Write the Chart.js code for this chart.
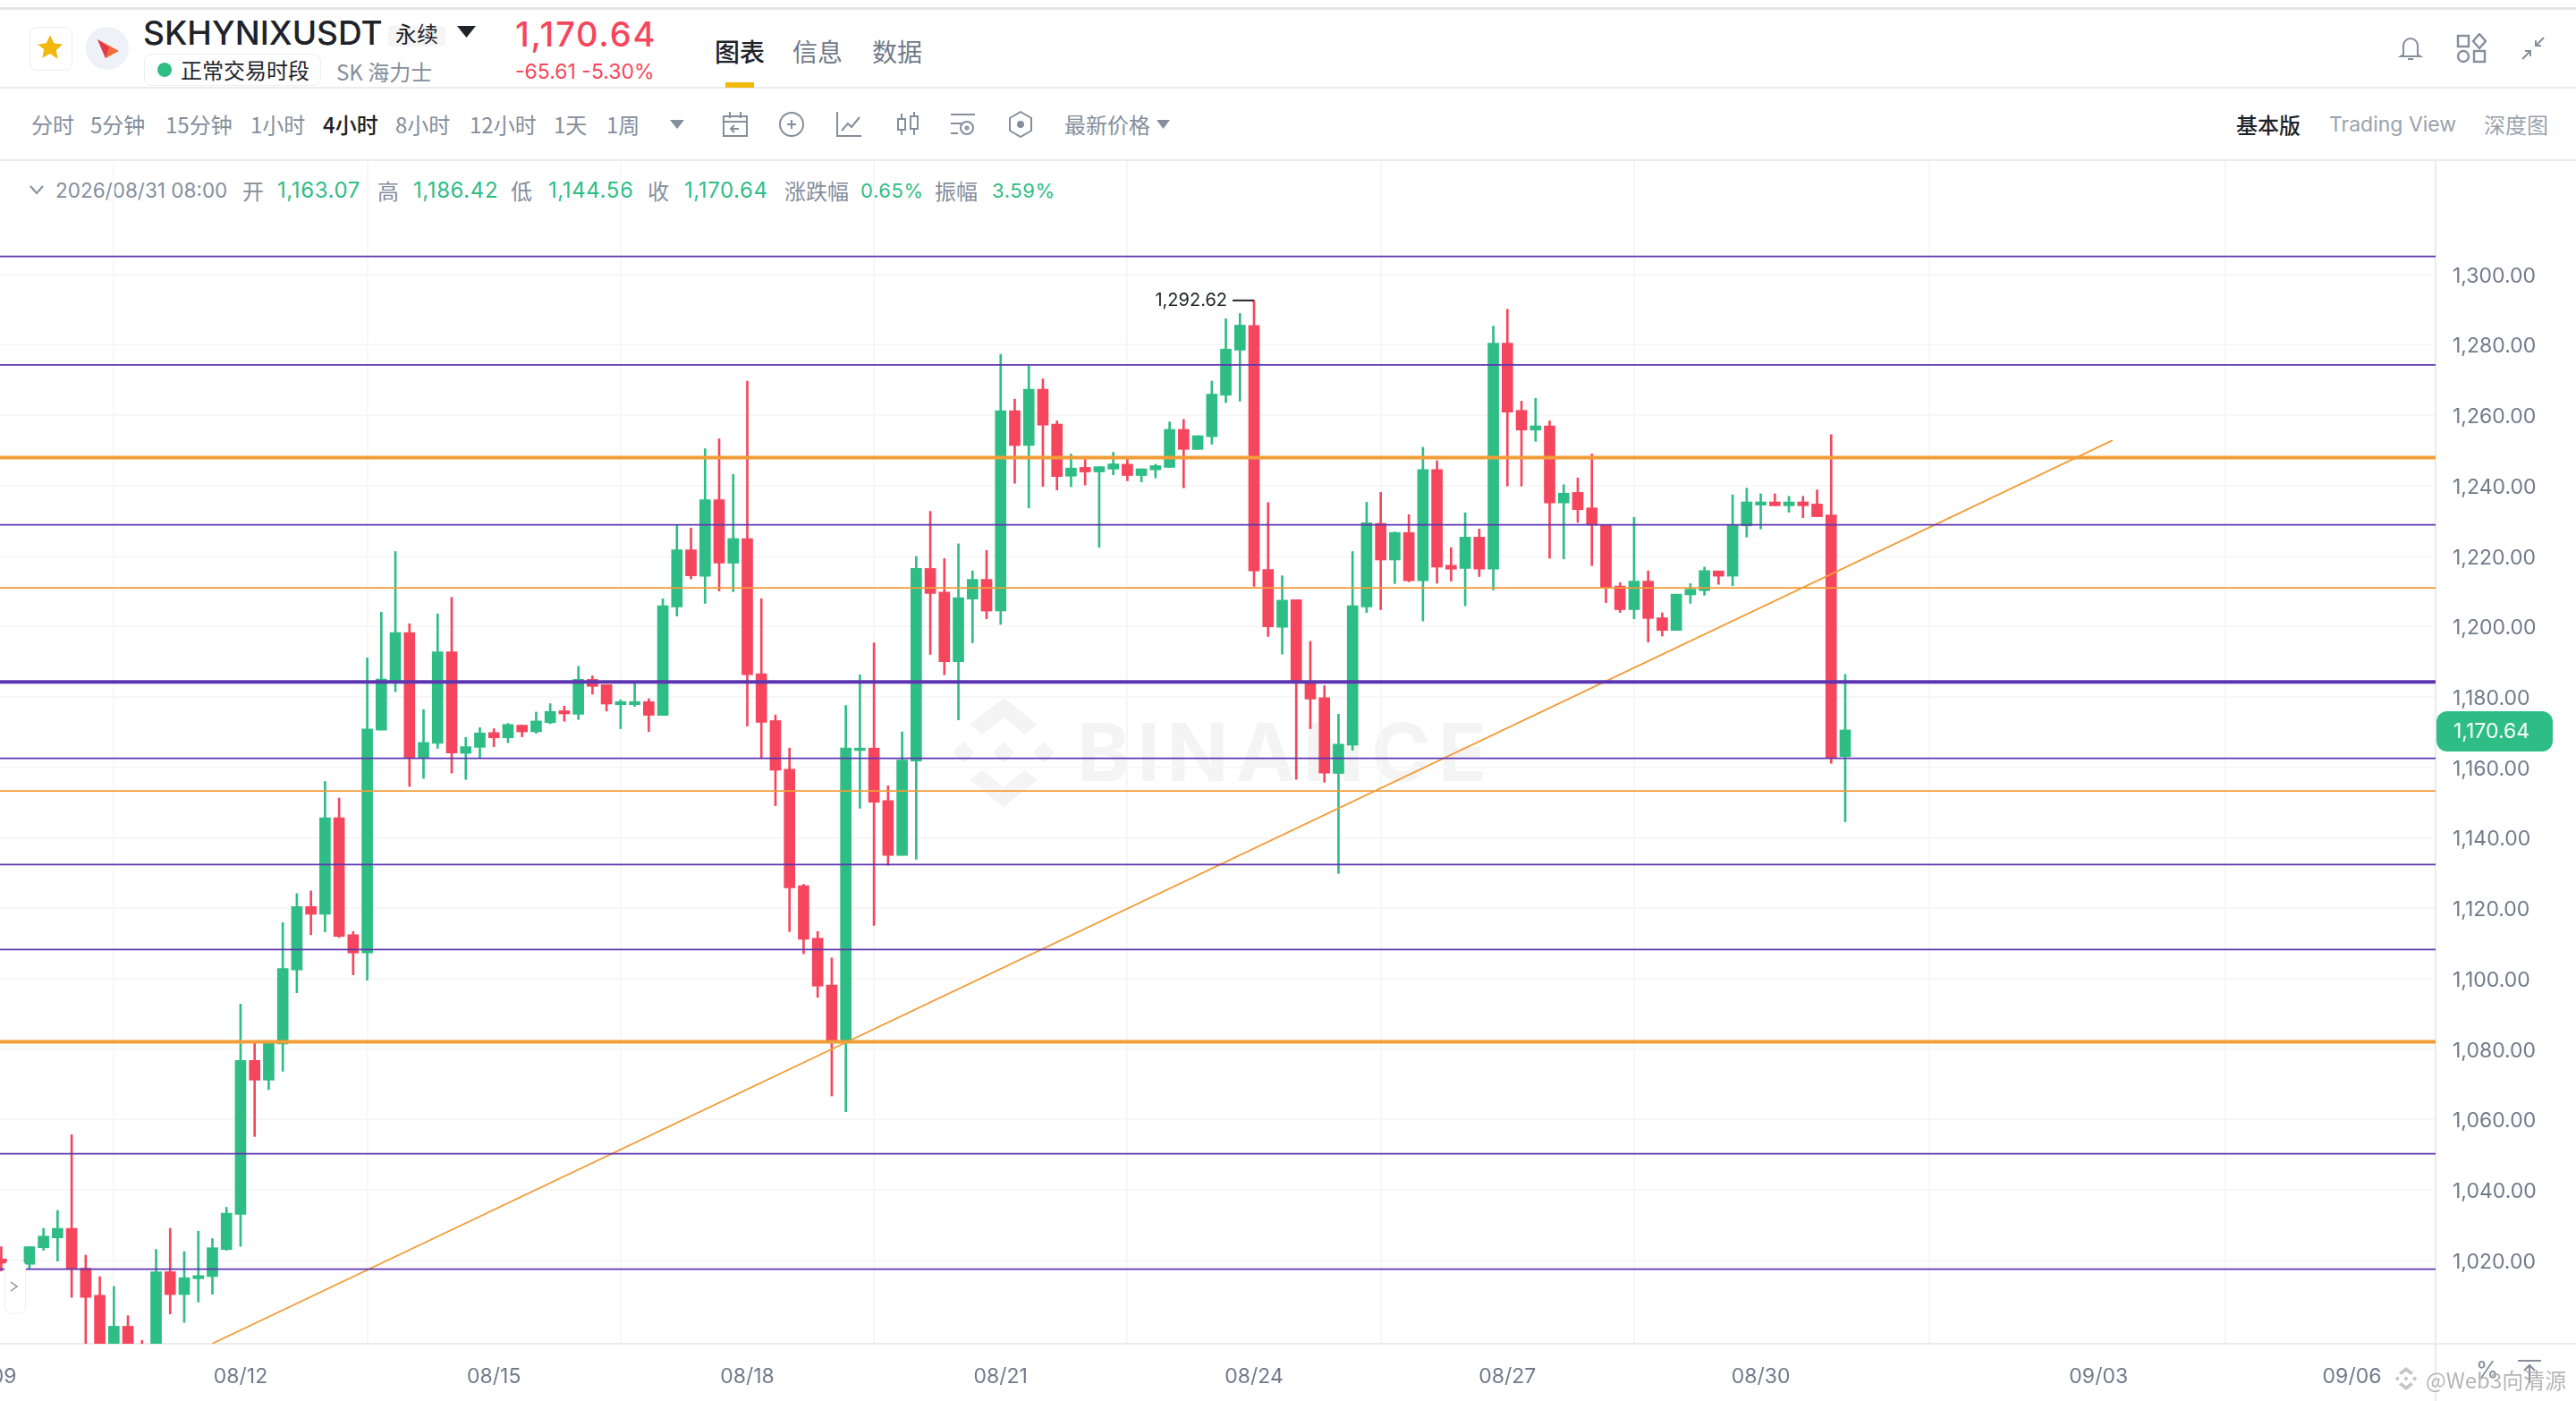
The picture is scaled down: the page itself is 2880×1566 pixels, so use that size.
<!DOCTYPE html>
<html>
<head>
<meta charset="utf-8">
<script src="https://cdn.jsdelivr.net/npm/chart.js@4"></script>
<style>
  html, body { margin: 0; padding: 0; background: #fff; width: 2880px; height: 1566px; overflow: hidden; }
  body { position: relative; font-family: Inter, "Noto Sans CJK SC", sans-serif; color: #848e9c; }
  .t { position: absolute; white-space: nowrap; line-height: 1; transform: translateY(-50%); font-size: 24px; }
  .cjk { font-family: "Noto Sans CJK SC", sans-serif; }
  .dark { color: #1e2329; }
  .green { color: #2ebd85; letter-spacing: .6px; }
  .red { color: #f6465d; }
  .rule { position: absolute; left: 0; width: 2880px; height: 2px; background: #ececec; }
  svg { position: absolute; }
  #wrap { position: absolute; left: 0; top: 180px; width: 2880px; height: 1386px; }
</style>
</head>
<body>
<div class="rule" style="top:8px;height:3px;background:#e6e6e6"></div>
<div class="rule" style="top:97px"></div>
<div class="rule" style="top:178px"></div>

<!-- header -->
<div style="position:absolute;left:33px;top:30px;width:46px;height:47px;border:1px solid #eee;border-radius:8px"></div>
<svg style="left:41px;top:38px" width="30" height="30" viewBox="0 0 24 24"><path d="M12 1l3.4 7.2 7.6 1-5.5 5.4 1.4 7.7L12 17.6l-6.9 3.7 1.4-7.7L1 9.2l7.6-1z" fill="#f0b90b"/></svg>
<div style="position:absolute;left:96px;top:30px;width:48px;height:48px;border-radius:50%;background:#eef1f8"></div>
<svg style="left:107px;top:42px" width="28" height="26" viewBox="0 0 28 26"><path d="M2 2l24 13-15 8z" fill="#f26b3a"/><path d="M2 2l9 21 4-12z" fill="#e53950"/></svg>
<div class="t dark" style="left:160px;top:36px;font-size:37px;font-weight:500">SKHYNIXUSDT</div>
<div style="position:absolute;left:434px;top:29px;width:64px;height:23px;background:#f5f5f5;border-radius:4px"></div>
<div class="t cjk dark" style="left:442px;top:37px">永续</div>
<svg style="left:511px;top:29px" width="21" height="13"><path d="M0 0h21L10.5 13z" fill="#1e2329"/></svg>
<div class="t red" style="left:576px;top:38px;font-size:38px;font-weight:500;letter-spacing:1.8px">1,170.64</div>
<div class="t red" style="left:576px;top:80px;font-size:23px">-65.61 -5.30%</div>
<div style="position:absolute;left:161px;top:60px;width:196px;height:34px;border:1px solid #eee;border-radius:8px"></div>
<div style="position:absolute;left:176px;top:70px;width:16px;height:16px;border-radius:50%;background:#2ebd85"></div>
<div class="t cjk dark" style="left:202px;top:78px">正常交易时段</div>
<div class="t cjk" style="left:376px;top:80px">SK 海力士</div>
<div class="t cjk dark" style="left:799px;top:57px;font-size:28px;font-weight:500">图表</div>
<div class="t cjk" style="left:886px;top:57px;font-size:28px;color:#707a8a">信息</div>
<div class="t cjk" style="left:975px;top:57px;font-size:28px;color:#707a8a">数据</div>
<div style="position:absolute;left:811px;top:92px;width:32px;height:6px;background:#f0b90b"></div>

<svg style="left:2680px;top:38px" width="30" height="32" viewBox="0 0 30 32" fill="none" stroke="#848e9c" stroke-width="2"><path d="M7 23V13a8 8 0 0 1 16 0v10l3 2H4z"/><path d="M12 28h6"/></svg>
<svg style="left:2746px;top:37px" width="34" height="34" viewBox="0 0 34 34" fill="none" stroke="#848e9c" stroke-width="2.4"><rect x="2" y="3" width="12" height="12"/><path d="M26 1l7 8-7 8-7-8z"/><circle cx="8" cy="26" r="6"/><rect x="20" y="20" width="12" height="12"/></svg>
<svg style="left:2818px;top:40px" width="28" height="28" viewBox="0 0 28 28" fill="none" stroke="#848e9c" stroke-width="2"><path d="M2 26l9-9M11 23v-6H5M26 2l-9 9M17 5v6h6"/></svg>

<!-- toolbar -->
<div class="t cjk" style="left:35px;top:139px">分时</div>
<div class="t cjk" style="left:101px;top:139px">5分钟</div>
<div class="t cjk" style="left:185px;top:139px">15分钟</div>
<div class="t cjk" style="left:280px;top:139px">1小时</div>
<div class="t cjk dark" style="left:361px;top:139px;font-weight:500">4小时</div>
<div class="t cjk" style="left:442px;top:139px">8小时</div>
<div class="t cjk" style="left:525px;top:139px">12小时</div>
<div class="t cjk" style="left:619px;top:139px">1天</div>
<div class="t cjk" style="left:678px;top:139px">1周</div>
<svg style="left:749px;top:134px" width="16" height="10"><path d="M0 0h16L8 10z" fill="#848e9c"/></svg>
<svg style="left:807px;top:124px" width="30" height="30" viewBox="0 0 30 30" fill="none" stroke="#848e9c" stroke-width="2"><path d="M2 6h26v22H2zM2 12h26M9 1v7M21 1v7M19 20h-9M14 16l-4 4 4 4"/></svg>
<svg style="left:870px;top:124px" width="30" height="30" viewBox="0 0 30 30" fill="none" stroke="#848e9c" stroke-width="2"><circle cx="15" cy="15" r="13"/><path d="M15 10v10M10 15h10"/></svg>
<svg style="left:934px;top:124px" width="30" height="30" viewBox="0 0 30 30" fill="none" stroke="#848e9c" stroke-width="2"><path d="M2 1v27h27M7 22l7-8 4 4 9-11"/></svg>
<svg style="left:1000px;top:124px" width="30" height="30" viewBox="0 0 30 30" fill="none" stroke="#848e9c" stroke-width="2"><rect x="4" y="9" width="8" height="12"/><rect x="18" y="6" width="8" height="14"/><path d="M8 3v6M8 21v6M22 1v5M22 20v7"/></svg>
<svg style="left:1061px;top:124px" width="30" height="30" viewBox="0 0 30 30" fill="none" stroke="#848e9c" stroke-width="2"><path d="M2 4h27M2 14h12M2 25h8"/><circle cx="20" cy="19" r="7"/><circle cx="20" cy="19" r="1.5"/></svg>
<svg style="left:1126px;top:124px" width="30" height="30" viewBox="0 0 30 30" fill="none" stroke="#848e9c" stroke-width="2"><path d="M15 1l12 7v14l-12 7-12-7V8z"/><circle cx="15" cy="15" r="3" fill="#848e9c"/></svg>
<div class="t cjk" style="left:1190px;top:139px">最新价格</div>
<svg style="left:1293px;top:134px" width="15" height="10"><path d="M0 0h15L7.5 10z" fill="#848e9c"/></svg>
<div class="t cjk dark" style="left:2500px;top:139px;font-weight:500">基本版</div>
<div class="t" style="left:2604px;top:139px;font-size:23px;color:#9aa2ad">Trading View</div>
<div class="t cjk" style="left:2777px;top:139px;color:#9aa2ad">深度图</div>

<!-- ohlc line -->
<svg style="left:33px;top:206px" width="16" height="12" fill="none" stroke="#848e9c" stroke-width="2"><path d="M1 2l7 8 7-8"/></svg>
<div class="t" style="left:62px;top:213px;font-size:22.5px">2026/08/31 08:00</div>
<div class="t cjk" style="left:271px;top:213px">开</div>
<div class="t green" style="left:310px;top:213px">1,163.07</div>
<div class="t cjk" style="left:422px;top:213px">高</div>
<div class="t green" style="left:462px;top:213px">1,186.42</div>
<div class="t cjk" style="left:571px;top:213px">低</div>
<div class="t green" style="left:613px;top:213px">1,144.56</div>
<div class="t cjk" style="left:724px;top:213px">收</div>
<div class="t green" style="left:765px;top:213px">1,170.64</div>
<div class="t cjk" style="left:877px;top:213px">涨跌幅</div>
<div class="t green" style="left:962px;top:213px;font-size:22px">0.65%</div>
<div class="t cjk" style="left:1045px;top:213px">振幅</div>
<div class="t green" style="left:1109px;top:213px;font-size:22px">3.59%</div>

<!-- watermark behind the chart -->
<svg style="left:1065px;top:780px" width="114" height="122" viewBox="0 0 114 122" fill="#f4f4f4"><path d="M57 0l38 30-14 11-24-19-24 19-14-11zM12 49l12 12-12 12L0 61zM57 49l12 12-12 12-12-12zM102 49l12 12-12 12-12-12zM33 81l24 19 24-19 14 11-38 30-38-30z"/></svg>
<div class="t" style="left:1204px;top:841px;font-size:90px;font-weight:700;letter-spacing:8px;color:#f4f4f4">BINANCE</div>

<div id="wrap"><canvas id="chart" width="2880" height="1386"></canvas></div>

<!-- axis rules run on to the page edge -->
<div style="position:absolute;left:2722px;top:1502px;width:2px;height:64px;background:#ebebeb"></div>
<div style="position:absolute;left:2723px;top:1501px;width:157px;height:2px;background:#ebebeb"></div>

<!-- collapse button, bottom corner -->
<div style="position:absolute;left:5px;top:1408px;width:22px;height:59px;background:#fff;border:1px solid #eee;border-radius:8px"></div>
<svg style="left:11px;top:1432px" width="10" height="12" fill="none" stroke="#848e9c" stroke-width="1.5"><path d="M1 1l7 5-7 5"/></svg>
<div class="t" style="left:2768px;top:1531px;font-size:26px;color:#848e9c">%</div>
<svg style="left:2814px;top:1520px" width="28" height="26" fill="none" stroke="#848e9c" stroke-width="2"><path d="M1 1h26M14 26V7M8 12l6-6 6 6"/></svg>
<svg style="left:2677px;top:1528px" width="26" height="26" viewBox="0 0 114 122" fill="#c4c4c4"><path d="M57 0l38 30-14 11-24-19-24 19-14-11zM12 49l12 12-12 12L0 61zM57 49l12 12-12 12-12-12zM102 49l12 12-12 12-12-12zM33 81l24 19 24-19 14 11-38 30-38-30z"/></svg>
<div class="t cjk" style="left:2712px;top:1542px;font-size:24px;color:#a9a9a9;opacity:.85">@Web3向清源</div>

<script>
    // 4h candles, oldest first. candle 0 is the one sitting on the 08/12 tick
    const firstCandle = -17;
    const opens = [
        1020.4, 1010, 1018.9, 1023.6, 1026.4, 1029.1, 1017.8, 1010.1, 992, 1001.3,
        995, 990, 1016.8, 1010.3, 1014.8, 1015.4, 1023.1, 1033.1, 1076.8, 1071.2,
        1081.5, 1102.5, 1120.5, 1118.3, 1145.7, 1112.5, 1107.3, 1170.6, 1184.3, 1198.3,
        1162.7, 1166.8, 1192.8, 1164.0, 1165.7, 1169.9, 1168.4, 1172.0, 1170.1, 1172.7,
        1176.1, 1175.1, 1185.0, 1183.5, 1177.8, 1177.8, 1178.7, 1174.8, 1205.6, 1221.8,
        1214.3, 1236.0, 1218.0, 1225.0, 1186.6, 1173.3, 1159.5, 1126.4, 1111.5, 1098.2,
        1082.3, 1164.8, 1165.5, 1150.6, 1135.0, 1161.8, 1216.5, 1209.8, 1190.0, 1207.8,
        1213.4, 1204.4, 1261.3, 1251.4, 1267.4, 1257.5, 1242.7, 1245.2, 1243.9, 1244.7,
        1246.1, 1242.9, 1244.5, 1245.2, 1256.0, 1250.3, 1253.9, 1265.7, 1278.5, 1285.5,
        1216.2, 1199.8, 1207.6, 1184.4, 1179.8, 1158.3, 1166.3, 1205.6, 1229.3, 1218.9,
        1226.7, 1213.0, 1244.6, 1217.4, 1216.5, 1225.4, 1216.3, 1280.5, 1261.4, 1255.8,
        1257.0, 1235.1, 1238.1, 1233.7, 1228.8, 1211.5, 1204.8, 1212.9, 1202.5, 1198.9,
        1209.0, 1210.2, 1215.8, 1214.3, 1228.6, 1234.5, 1235.4, 1234.3, 1235.4, 1234.8,
        1231.7, 1163.07
    ];
    const highs = [
        1023.9, 1016, 1023.9, 1029.1, 1034.2, 1055.7, 1021.5, 1015.4, 1012.6, 1004.3,
        997.3, 1023.1, 1029.1, 1022.5, 1028.3, 1026.2, 1035.1, 1092.8, 1081.8, 1081.8,
        1115.9, 1124.2, 1124.9, 1156.0, 1151.3, 1113.4, 1191.1, 1204.1, 1221.3, 1200.8,
        1176.4, 1203.6, 1208.3, 1168.5, 1171.3, 1171.0, 1172.5, 1172.0, 1175.7, 1178.1,
        1177.4, 1188.7, 1186.0, 1183.5, 1179.2, 1184.1, 1179.5, 1207.9, 1228.9, 1228.0,
        1250.5, 1253.3, 1243.2, 1269.7, 1207.9, 1174.9, 1165.5, 1126.8, 1113.4, 1105.9,
        1177.6, 1186.3, 1195.4, 1154.8, 1170.1, 1219.9, 1232.7, 1219.3, 1223.5, 1215.8,
        1221.6, 1277.3, 1264.6, 1274.1, 1270.3, 1258.4, 1249.0, 1247.5, 1245.4, 1249.5,
        1247.7, 1244.8, 1246.1, 1258.1, 1258.8, 1254.2, 1269.7, 1287.4, 1288.9, 1292.62,
        1235.2, 1214.4, 1207.6, 1195.8, 1183.2, 1175.1, 1221.3, 1235.3, 1238.1, 1226.9,
        1231.8, 1250.9, 1247.1, 1222.4, 1232.3, 1227.7, 1285.3, 1290.1, 1264.0, 1264.8,
        1258.4, 1240.3, 1242.2, 1249.0, 1228.8, 1212.5, 1231.0, 1215.8, 1203.9, 1209.2,
        1212.2, 1216.9, 1215.8, 1237.4, 1239.3, 1237.7, 1237.7, 1237.0, 1237.0, 1238.8,
        1254.5, 1186.42
    ];
    const lows = [
        1017.0, 1008, 1017.6, 1022.9, 1019.8, 1009.5, 990, 985, 990, 990,
        990, 985, 1004.8, 1002.4, 1008.2, 1010.4, 1022.9, 1024.0, 1055.2, 1068.5,
        1073.7, 1096.0, 1112.5, 1113.3, 1111.7, 1101.1, 1099.6, 1170.6, 1181.5, 1154.6,
        1156.9, 1165.4, 1158.4, 1156.6, 1162.6, 1165.9, 1167.0, 1168.7, 1169.7, 1172.4,
        1173.1, 1173.6, 1180.8, 1176.0, 1171.0, 1177.3, 1170.2, 1174.8, 1203.0, 1213.5,
        1206.6, 1210.1, 1209.9, 1171.7, 1162.5, 1149.1, 1113.4, 1107.1, 1094.7, 1066.7,
        1062.2, 1148.4, 1115.1, 1132.2, 1135.0, 1133.9, 1192.1, 1186.3, 1173.5, 1195.4,
        1202.2, 1200.6, 1240.7, 1233.7, 1239.8, 1238.8, 1239.7, 1240.2, 1222.5, 1243.1,
        1241.4, 1241.1, 1242.2, 1245.2, 1239.4, 1250.3, 1251.8, 1263.6, 1264.0, 1211.4,
        1197.2, 1192.2, 1156.6, 1171.0, 1155.8, 1129.9, 1164.9, 1204.0, 1204.8, 1212.2,
        1212.7, 1201.6, 1212.3, 1212.9, 1205.9, 1214.2, 1210.4, 1239.9, 1239.9, 1252.6,
        1219.4, 1219.2, 1229.6, 1217.3, 1206.8, 1204.0, 1202.2, 1195.6, 1197.3, 1198.9,
        1206.6, 1208.9, 1212.0, 1211.6, 1225.4, 1227.7, 1234.3, 1232.5, 1230.9, 1231.2,
        1161.2, 1144.56
    ];
    const closes = [
        1019.2, 1014, 1023.9, 1026.9, 1029.1, 1017.5, 1009.5, 990, 1001.3, 993,
        992, 1016.8, 1010.3, 1015.1, 1015.7, 1023.6, 1033.4, 1076.8, 1071.2, 1081.8,
        1102.9, 1120.5, 1118.3, 1145.7, 1112.0, 1107.3, 1170.9, 1185.1, 1198.3, 1162.7,
        1167.1, 1192.8, 1164.1, 1165.9, 1169.8, 1168.4, 1172.2, 1170.1, 1173.2, 1175.9,
        1175.2, 1185.0, 1183.0, 1178.0, 1178.7, 1178.7, 1174.8, 1205.9, 1221.8, 1214.4,
        1236.0, 1218.0, 1225.0, 1186.3, 1172.8, 1159.2, 1125.8, 1111.2, 1097.9, 1082.3,
        1165.5, 1165.5, 1150.1, 1135.0, 1162.1, 1216.5, 1209.4, 1190.0, 1208.2, 1213.4,
        1204.4, 1261.3, 1251.4, 1267.4, 1257.2, 1242.6, 1245.0, 1243.9, 1245.4, 1246.2,
        1242.9, 1244.8, 1245.7, 1256.0, 1250.3, 1254.2, 1266.0, 1278.8, 1285.6, 1215.8,
        1199.9, 1207.5, 1184.7, 1179.4, 1158.4, 1166.6, 1205.9, 1229.5, 1218.9, 1226.7,
        1213.0, 1244.6, 1216.9, 1216.3, 1225.4, 1216.3, 1280.5, 1260.9, 1255.8, 1257.0,
        1235.1, 1237.9, 1233.2, 1228.8, 1211.0, 1204.8, 1212.9, 1202.3, 1198.9, 1209.2,
        1210.6, 1215.9, 1214.3, 1228.8, 1235.4, 1235.4, 1234.3, 1235.4, 1234.3, 1231.2,
        1162.6, 1170.64
    ];

    const priceTicks = [1020, 1040, 1060, 1080, 1100, 1120, 1140, 1160, 1180, 1200, 1220, 1240, 1260, 1280, 1300];
    const dateTickPos = [-18, 0, 18, 36, 54, 72, 90, 108, 132, 150];
    const dateTickLabels = ['08/09', '08/12', '08/15', '08/18', '08/21', '08/24', '08/27', '08/30', '09/03', '09/06'];

    // drawn levels
    const purpleThin = [1305.1, 1274.3, 1228.9, 1162.6, 1132.4, 1108.3, 1050.3, 1017.5];
    const purpleBold = [1184.3];
    const orangeThin = [1211.0, 1153.3];
    const orangeBold = [1248.0, 1082.1];
    const trendX = [-2, 133];
    const trendY = [996.4, 1252.9];

    const lastPrice = 1170.64;
    const peakPrice = 1292.62;

    const GREEN = '#2ebd85', RED = '#f6465d', PURPLE = '#5e35b1', ORANGE = '#f29d38';
    const AXIS_FONT = 'Inter';
    const X_MIN = -17.09, X_MAX = 155.94;

    const fmt = v => v.toLocaleString('en-US', { minimumFractionDigits: 2, maximumFractionDigits: 2 });
    const candleColors = opens.map((o, i) => closes[i] >= o ? GREEN : RED);
    const wicks = opens.map((o, i) => ({ x: firstCandle + i, y: [lows[i], highs[i]] }));
    const bodies = opens.map((o, i) => ({ x: firstCandle + i, y: [o, closes[i]] }));

    function levelLine(v, color, width) {
        return {
            type: 'line',
            data: [{ x: X_MIN, y: v }, { x: X_MAX, y: v }],
            borderColor: color,
            borderWidth: width,
            pointRadius: 0,
            order: 0
        };
    }

    const datasets = [
        { type: 'bar', data: wicks, backgroundColor: candleColors, barThickness: 2, grouped: false, order: 2 },
        { type: 'bar', data: bodies, backgroundColor: candleColors, barThickness: 12, grouped: false, order: 1 },
        ...purpleThin.map(v => levelLine(v, PURPLE, 1.7)),
        ...purpleBold.map(v => levelLine(v, PURPLE, 4)),
        ...orangeThin.map(v => levelLine(v, ORANGE, 1.7)),
        ...orangeBold.map(v => levelLine(v, ORANGE, 4)),
        {
            type: 'line',
            data: trendX.map((x, i) => ({ x: x, y: trendY[i] })),
            borderColor: ORANGE,
            borderWidth: 1.8,
            pointRadius: 0,
            order: 0
        }
    ];

    // price tag on the axis and the little high marker
    const marks = {
        id: 'marks',
        afterDraw(chart) {
            const c = chart.ctx, xs = chart.scales.x, ys = chart.scales.y;
            const right = chart.chartArea.right;

            const py = ys.getPixelForValue(lastPrice);
            c.fillStyle = GREEN;
            c.beginPath();
            c.roundRect(right + 1, py - 21, 130, 45, 12);
            c.fill();
            c.fillStyle = '#fff';
            c.font = '23px ' + AXIS_FONT;
            c.textAlign = 'left';
            c.textBaseline = 'middle';
            c.fillText(fmt(lastPrice), right + 20, py + 2);

            const hx = xs.getPixelForValue(firstCandle + highs.indexOf(peakPrice));
            const hy = ys.getPixelForValue(peakPrice);
            c.strokeStyle = '#1e2329';
            c.lineWidth = 2;
            c.beginPath();
            c.moveTo(hx - 24, hy);
            c.lineTo(hx, hy);
            c.stroke();
            c.fillStyle = '#1e2329';
            c.font = '20px ' + AXIS_FONT;
            c.textAlign = 'right';
            c.fillText(fmt(peakPrice), hx - 30, hy);
        }
    };

    // the 08/09 label hangs off the left edge, don't let the scales pad for it
    function noPadding(s) {
        s.paddingLeft = s.paddingRight = s.paddingTop = s.paddingBottom = 0;
        s._margins = { left: 0, right: 0, top: 0, bottom: 0 };
    }

    const chart = new Chart(document.getElementById('chart').getContext('2d'), {
        data: { datasets: datasets },
        plugins: [marks],
        options: {
            responsive: false,
            animation: false,
            layout: { padding: 0, autoPadding: false },
            plugins: { legend: { display: false }, tooltip: { enabled: false } },
            scales: {
                x: {
                    type: 'linear',
                    offset: false,
                    min: X_MIN,
                    max: X_MAX,
                    afterFit: s => { s.height = 64; noPadding(s); },
                    afterBuildTicks: s => { s.ticks = dateTickPos.map(v => ({ value: v })); },
                    grid: { color: '#f7f7f7', lineWidth: 2, drawTicks: false },
                    border: { color: '#ebebeb', width: 2 },
                    ticks: {
                        autoSkip: false,
                        maxRotation: 0,
                        padding: 23,
                        color: '#707a8a',
                        font: { family: AXIS_FONT, size: 23 },
                        callback: v => dateTickLabels[dateTickPos.indexOf(v)]
                    }
                },
                y: {
                    position: 'right',
                    min: 996.34,
                    max: 1332.2,
                    afterFit: s => { s.width = 157; noPadding(s); },
                    afterBuildTicks: s => { s.ticks = priceTicks.map(v => ({ value: v })); },
                    grid: { color: '#f7f7f7', lineWidth: 2, drawTicks: false },
                    border: { color: '#ebebeb', width: 2 },
                    ticks: {
                        padding: 19,
                        labelOffset: 2,
                        color: '#707a8a',
                        font: { family: AXIS_FONT, size: 23 },
                        callback: v => fmt(v)
                    }
                }
            }
        }
    });
</script>
</body>
</html>
